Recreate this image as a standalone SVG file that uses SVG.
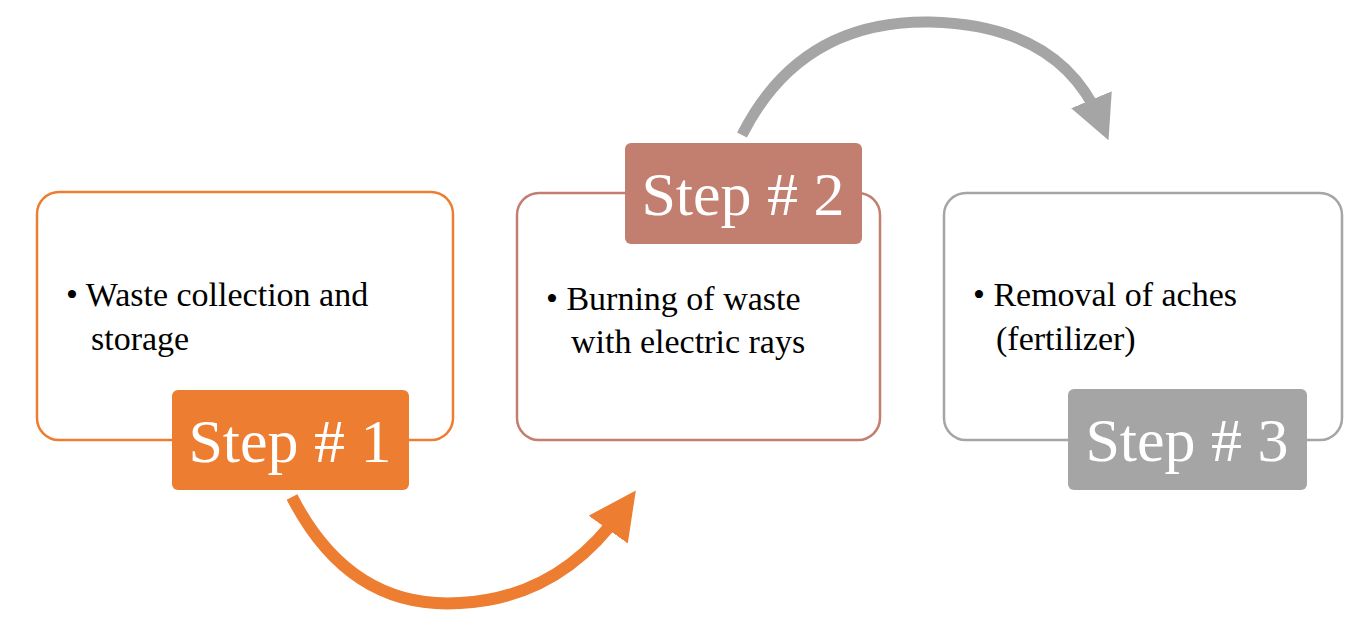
<svg xmlns="http://www.w3.org/2000/svg" width="1365" height="639" viewBox="0 0 1365 639">
<style>
.box{fill:#fff;stroke-width:2.5}
.t{font-family:"Liberation Serif",serif;font-size:34px;fill:#000}
.lab{font-family:"Liberation Serif",serif;font-size:62px;fill:#fff;text-anchor:middle}
</style>
<defs>
<marker id="ao" markerWidth="4" markerHeight="4" refX="2" refY="2" orient="auto" markerUnits="strokeWidth"><path d="M0,0 L4,2 L0,4 Z" fill="#ED7D31"/></marker>
<marker id="ag" markerWidth="4" markerHeight="4" refX="2" refY="2" orient="auto" markerUnits="strokeWidth"><path d="M0,0 L4,2 L0,4 Z" fill="#A5A5A5"/></marker>
</defs>
<rect width="1365" height="639" fill="#fff"/>
<g id="connectors" fill="none">
<path d="M292,497 Q350,610 460,603 Q560,598 622,510" stroke="#ED7D31" stroke-width="12" marker-end="url(#ao)"/>
<path d="M742,135 Q800,20 930,22 Q1060,25 1100,120" stroke="#A5A5A5" stroke-width="11" marker-end="url(#ag)"/>
</g>
<g id="node1">
<rect class="box" x="37" y="192" width="416" height="248" rx="22" stroke="#ED7D31"/>
<text class="t" x="66" y="306">• Waste collection and</text>
<text class="t" x="91" y="350">storage</text>
<rect x="172" y="390" width="237" height="100" rx="6" fill="#ED7D31"/>
<text class="lab" x="290" y="462">Step # 1</text>
</g>
<g id="node2">
<rect class="box" x="517" y="193" width="363" height="247" rx="22" stroke="#C27E6E"/>
<text class="t" x="546" y="310">• Burning of waste</text>
<text class="t" x="571" y="353">with electric rays</text>
<rect x="625" y="143" width="237" height="101" rx="6" fill="#C27E6E"/>
<text class="lab" x="743" y="215">Step # 2</text>
</g>
<g id="node3">
<rect class="box" x="944" y="193" width="398" height="247" rx="22" stroke="#A5A5A5"/>
<text class="t" x="973" y="306">• Removal of aches</text>
<text class="t" x="996" y="350">(fertilizer)</text>
<rect x="1068" y="389" width="239" height="101" rx="6" fill="#A5A5A5"/>
<text class="lab" x="1187" y="461">Step # 3</text>
</g>
</svg>
